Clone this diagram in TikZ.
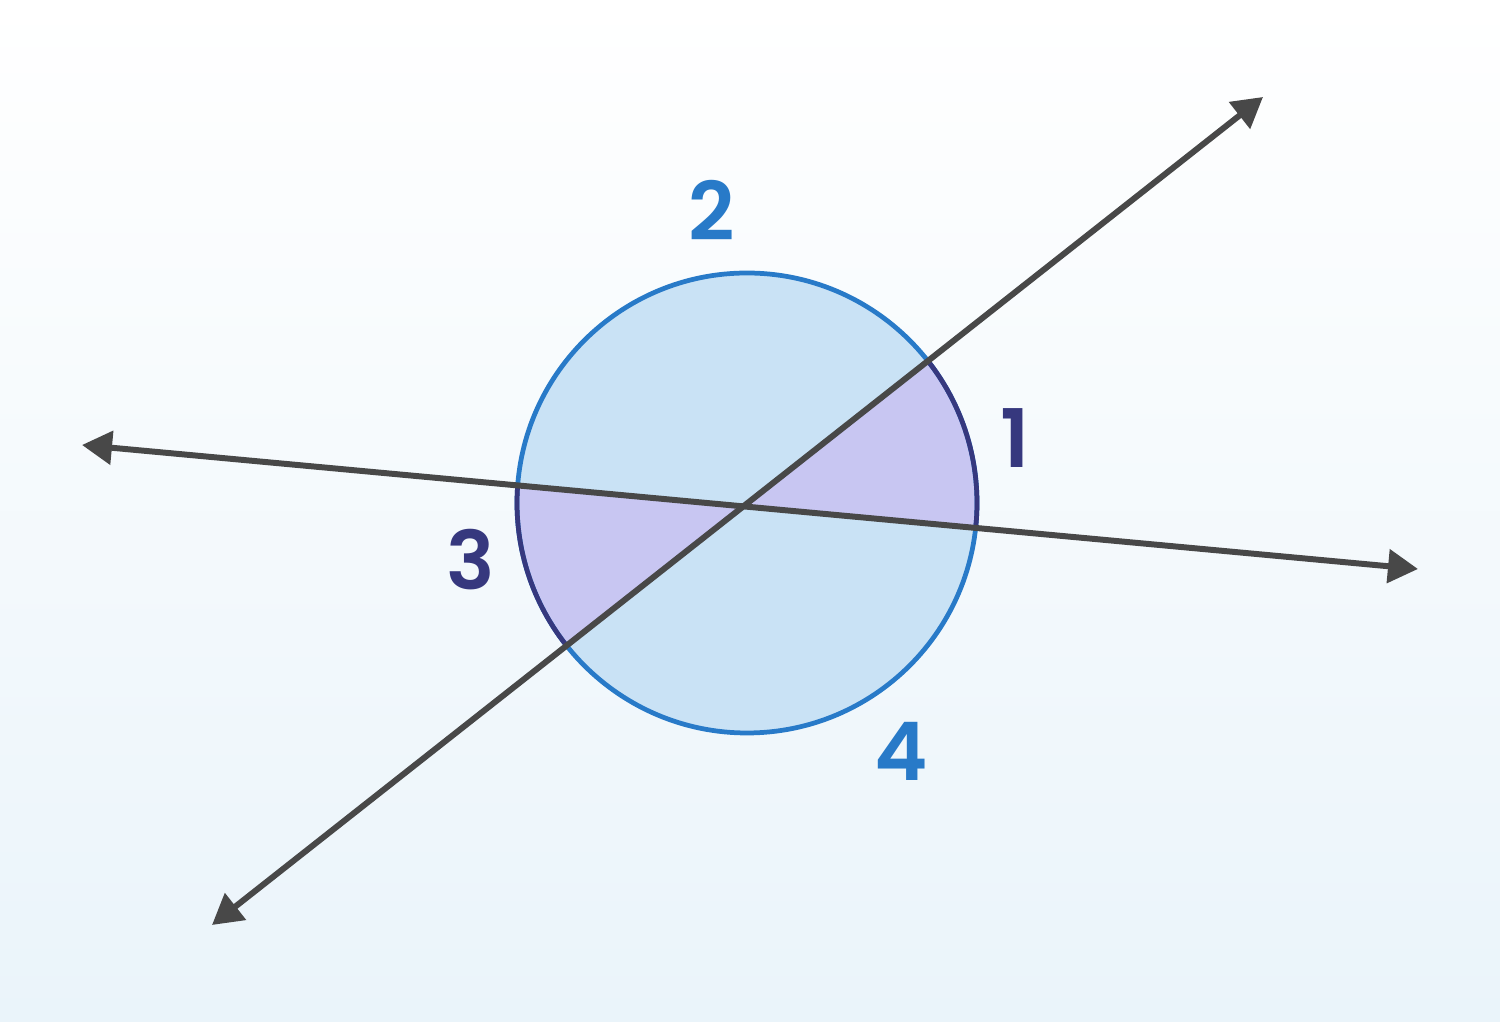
\documentclass[tikz,border=0pt]{standalone}
\usepackage{fontspec}
\setmainfont{Poppins}[BoldFont={Poppins SemiBold}]
\usepackage{tikz}
\usetikzlibrary{arrows.meta}
\usetikzlibrary{calc}
\definecolor{arcblue}{RGB}{40,122,200}
\definecolor{arcnavy}{RGB}{54,56,126}
\definecolor{lightfill}{RGB}{201,226,245}
\definecolor{anglefill}{RGB}{200,198,242}
\definecolor{linegray}{RGB}{72,72,72}
\definecolor{bgbottom}{RGB}{234,244,250}
\tikzstyle{transversal}=[line width=1.7pt, draw=linegray, {Triangle[length=0.3cm,width=0.33cm]}-{Triangle[length=0.3cm,width=0.33cm]}]
\tikzstyle{bluelabel}=[text=arcblue, font=\fontsize{23}{23}\selectfont\bfseries]
\tikzstyle{navylabel}=[text=arcnavy, font=\fontsize{23}{23}\selectfont\bfseries]
\begin{document}
\begin{tikzpicture}
	\shade[top color=white, bottom color=bgbottom] (0,0) rectangle (15,10.22);
	\useasboundingbox (0,0) rectangle (15,10.22);
	\coordinate (O) at (7.42,5.15);
	\coordinate (C) at (7.47,5.19);
	\coordinate (Hleft) at (0.82,5.77);
	\coordinate (Hright) at (14.18,4.53);
	\coordinate (Dlow) at (2.12,0.97);
	\coordinate (Dhigh) at (12.63,9.25);
	% disc, then the two vertical angles on top
	\fill[lightfill] (C) circle (2.3);
	\begin{scope}
		\clip (C) circle (2.3);
		\fill[anglefill] (O) -- ($(O)!5!(Hright)$) -- ($(O)!5!(Dhigh)$) -- cycle;
		\fill[anglefill] (O) -- ($(O)!5!(Hleft)$) -- ($(O)!5!(Dlow)$) -- cycle;
	\end{scope}
	\draw[arcblue, line width=1.35pt] (C) circle (2.3);
	\begin{scope}
		\clip (O) -- ($(O)!5!(Hright)$) -- ($(O)!5!(Dhigh)$) -- cycle
			(O) -- ($(O)!5!(Hleft)$) -- ($(O)!5!(Dlow)$) -- cycle;
		\draw[arcnavy, line width=1.35pt] (C) circle (2.3);
	\end{scope}
	\draw[transversal] (Hleft) -- (Hright);
	\draw[transversal] (Dlow) -- (Dhigh);
	\node[navylabel] (one) at (10.15,5.84) {1};
	\node[bluelabel] (two) at (7.12,8.12) {2};
	\node[navylabel] (three) at (4.71,4.62) {3};
	\node[bluelabel] (four) at (9.01,2.71) {4};
\end{tikzpicture}
\end{document}
